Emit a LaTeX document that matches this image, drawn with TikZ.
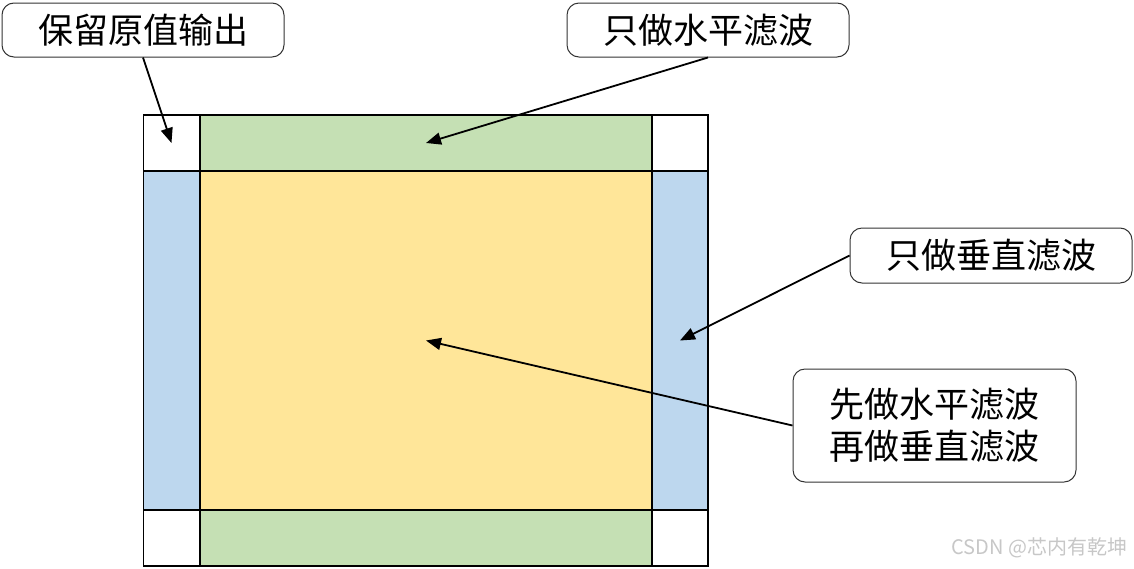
\documentclass[tikz,border=0pt]{standalone}
\usepackage{fontspec}
\newfontfamily\cjk{Noto Sans CJK SC}
\usetikzlibrary{arrows.meta,positioning}
\tikzset{
      cell/.style={
        draw=black,
        line width=1.2pt,
        inner sep=0pt,
        minimum width=#1
      },
      cell/.default=56pt,
      labelbox/.style={
        rounded corners=12pt,
        draw=black!80,
        line width=1pt,
        fill=white,
        align=center,
        inner sep=0pt,
        font=\cjk\fontsize{35}{42}\selectfont
      },
      pointer/.style={
        -{Triangle[length=15pt,width=12pt]},
        line width=1.8pt
      }
    }
\definecolor{hgreen}{HTML}{C5E0B4}
\definecolor{vblue}{HTML}{BDD7EE}
\definecolor{cyellow}{HTML}{FFE699}

\begin{document}
\begin{tikzpicture}[x=1pt,y=-1pt]
    \useasboundingbox (0,0) rectangle (1134,568);
    % grid of cells
    \node[cell, minimum height=56pt] (tl) at (171.5,143) {};
    \node[cell=452pt, minimum height=56pt, fill=hgreen] (top) at (426,143) {};
    \node[cell, minimum height=56pt] (tr) at (680,143) {};
    \node[cell, minimum height=339pt, fill=vblue] (left) at (171.5,340.5) {};
    \node[cell=452pt, minimum height=339pt, fill=cyellow] (mid) at (426,340.5) {};
    \node[cell, minimum height=339pt, fill=vblue] (right) at (680,340.5) {};
    \node[cell, minimum height=56pt] (bl) at (171.5,538) {};
    \node[cell=452pt, minimum height=56pt, fill=hgreen] (bot) at (426,538) {};
    \node[cell, minimum height=56pt] (br) at (680,538) {};
    % labels
    \node[labelbox, minimum width=282pt, minimum height=54pt] (keep) at (143,30) {保留原值输出};
    \node[labelbox, minimum width=282pt, minimum height=54pt] (horiz) at (708,30) {只做水平滤波};
    \node[labelbox, minimum width=282pt, minimum height=55pt] (vert) at (991,255.5) {只做垂直滤波};
    \node[labelbox, minimum width=283pt, minimum height=113pt] (both) at (934.5,425.5) {先做水平滤波\\再做垂直滤波};
    \draw[pointer] (keep.south) -- (tl.center);
    \draw[pointer] (horiz.south) -- (top.center);
    \draw[pointer] (vert.west) -- (right.center);
    \draw[pointer] (both.west) -- (mid.center);
    \node[text=black!22, font=\cjk\fontsize{20}{22}\selectfont, anchor=east] (mark) at (1131,548) {CSDN @芯内有乾坤};
    \end{tikzpicture}
\end{document}
